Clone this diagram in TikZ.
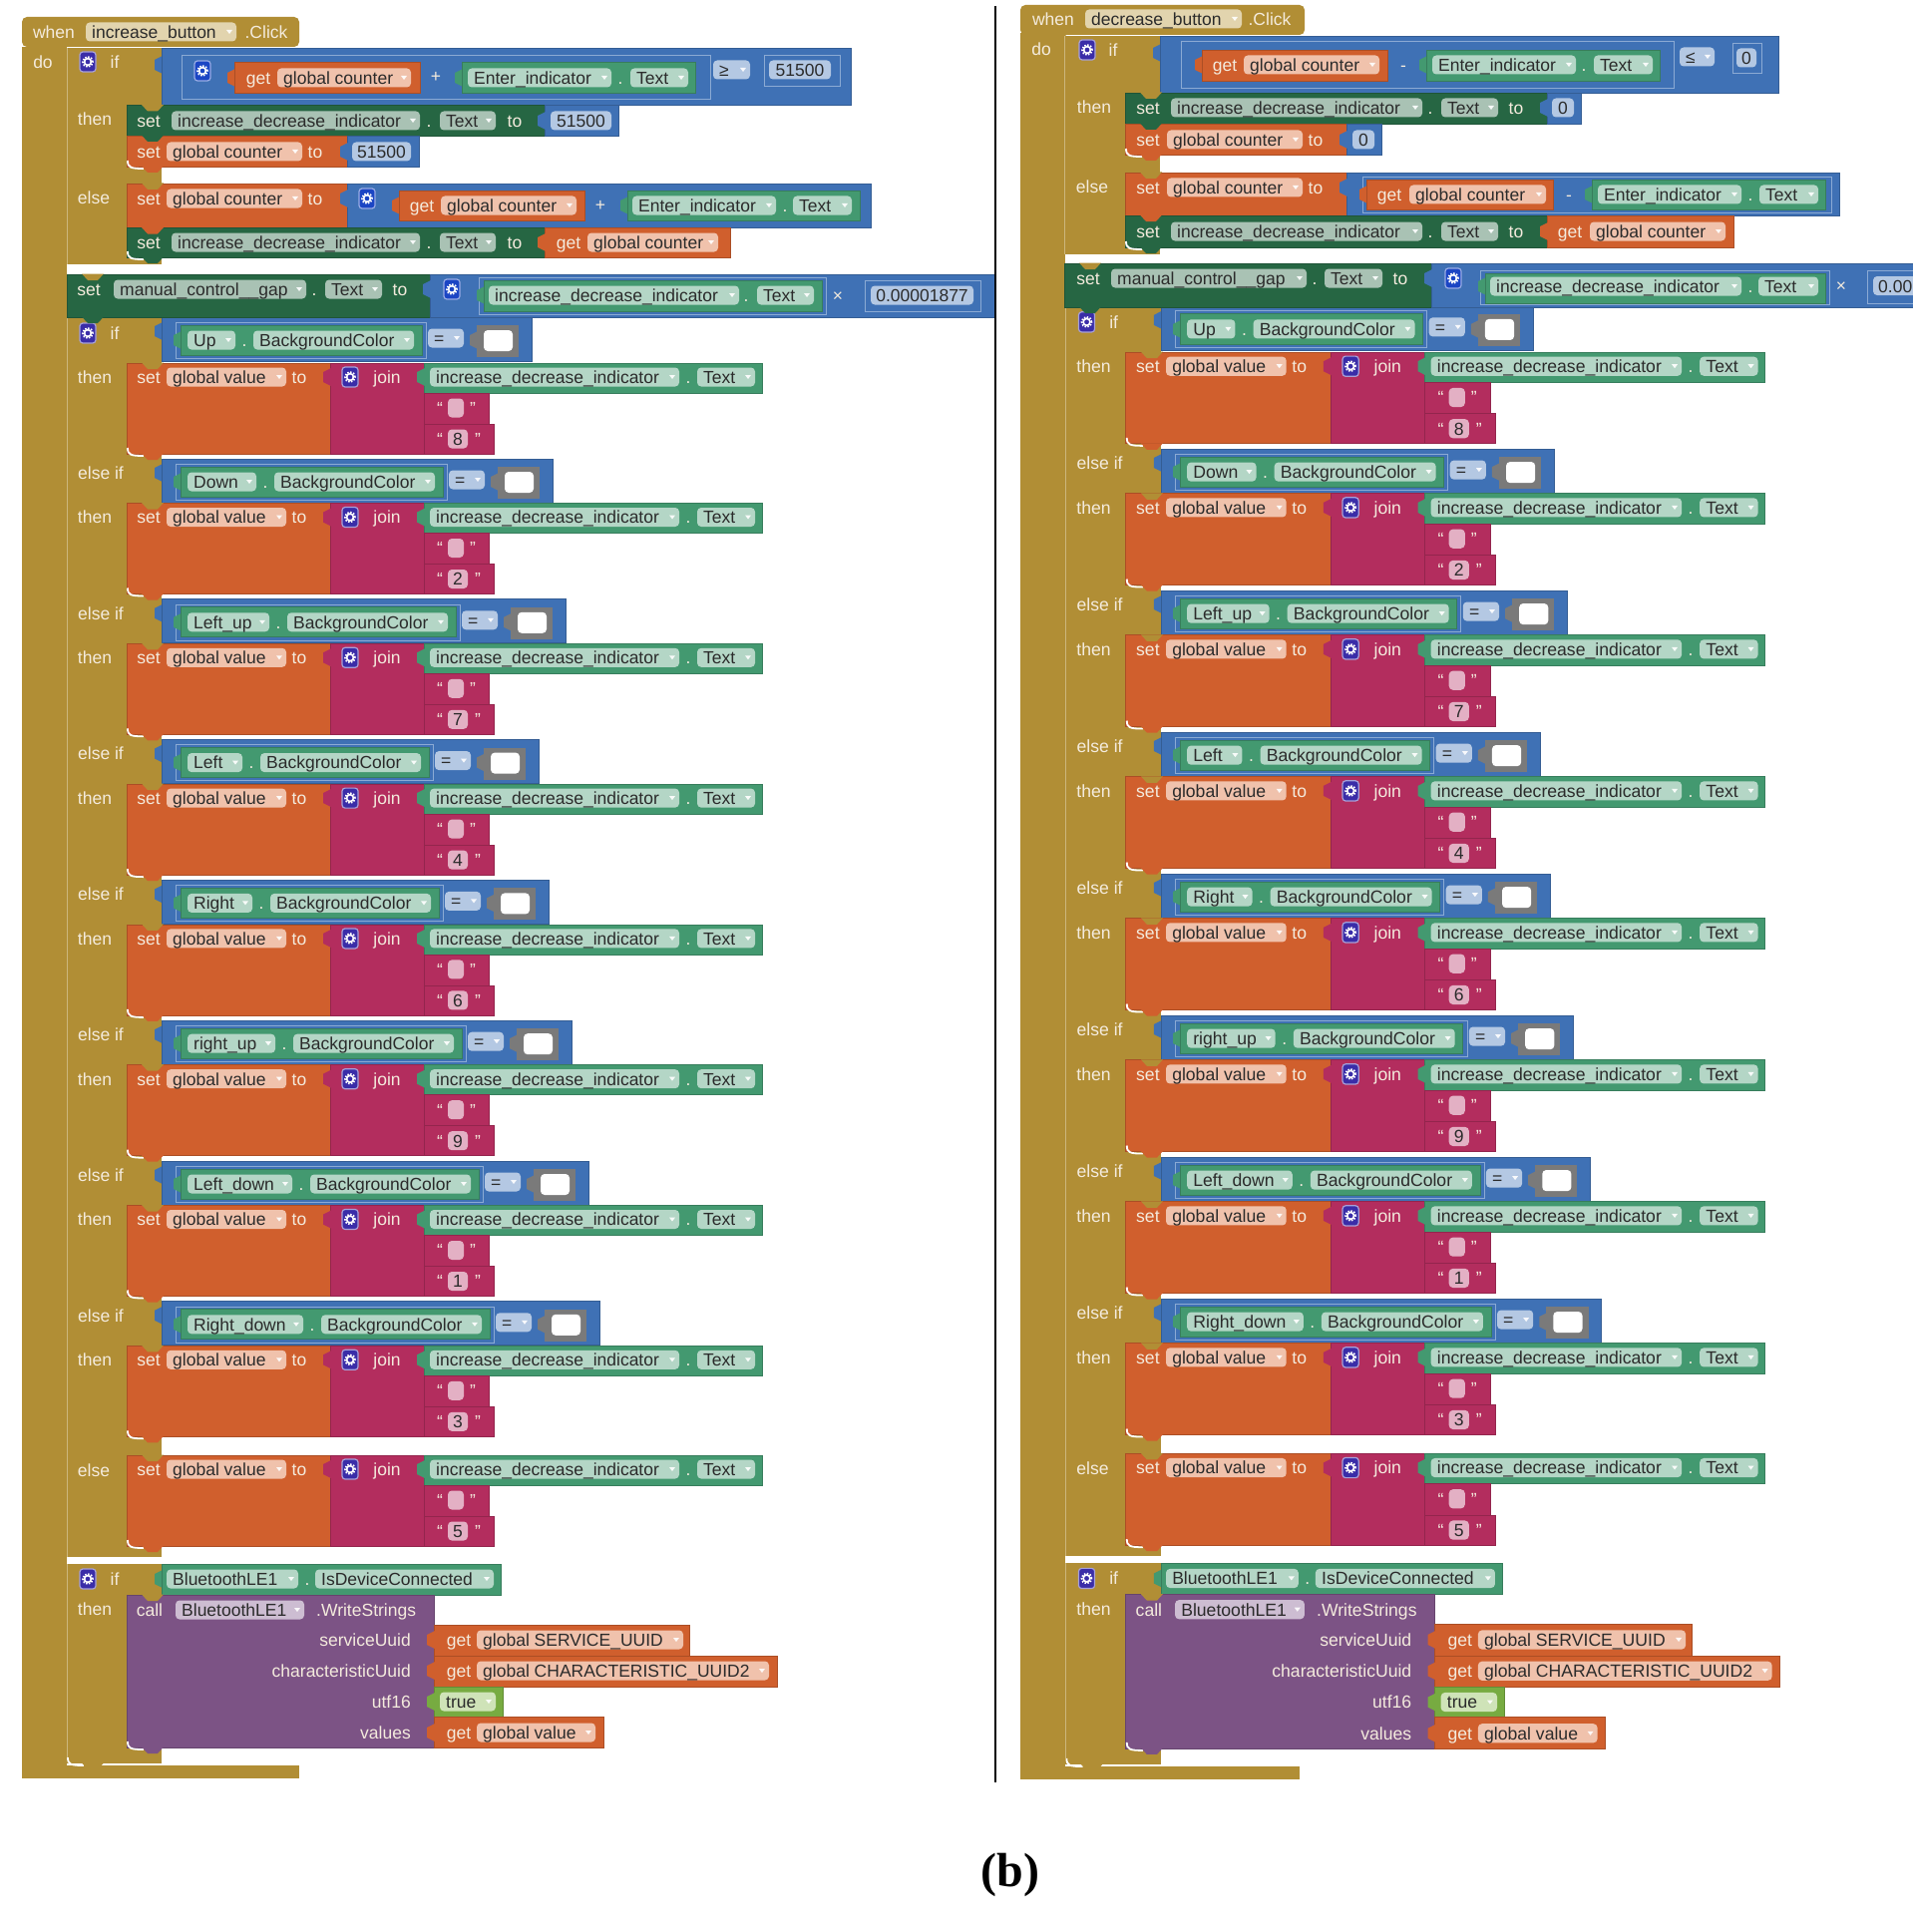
\documentclass[tikz,border=0pt]{standalone}
\usepackage{fontspec}
\setmainfont{Liberation Sans}
\newfontfamily\capfont{Liberation Serif}
\definecolor{gd}{HTML}{B18E35}
\definecolor{blu}{HTML}{3F71B5}
\definecolor{dgr}{HTML}{266643}
\definecolor{grn}{HTML}{439970}
\definecolor{org}{HTML}{D05F2D}
\definecolor{pnk}{HTML}{B32D5E}
\definecolor{pur}{HTML}{7C5385}
\definecolor{lgc}{HTML}{77AB41}
\definecolor{gry}{HTML}{7A7A7A}
\definecolor{fgd}{HTML}{E2D4AE}
\definecolor{fbl}{HTML}{B4C8E3}
\definecolor{fdg}{HTML}{A9C2B4}
\definecolor{fgr}{HTML}{B4D6C6}
\definecolor{for}{HTML}{F0C2AC}
\definecolor{fpk}{HTML}{E3B0C4}
\definecolor{fpu}{HTML}{CDBDD2}
\definecolor{flg}{HTML}{CFE3B8}
\definecolor{lbl}{HTML}{F4EBDD}
\definecolor{ftx}{HTML}{2B2B2B}
\definecolor{gbx}{HTML}{3A2DA8}
\definecolor{gbb}{HTML}{1B45C4}
\definecolor{oln}{HTML}{8BAAD4}
\newcount\nn
\newcommand\SZ{\fontsize{17.5}{20}\selectfont}
\tikzset{lab/.style={inner sep=0pt,font=\SZ,text=lbl},ftxt/.style={inner sep=0pt,font=\SZ,text=ftx}}
\newcommand\NN{\global\advance\nn by 1 }
\newcommand\B[5]{\filldraw[fill=#1,draw=#1!82!black,line width=.8pt] ({#2},{#3}) rectangle ({#4},{#5});}
% centred, left, right labels on a block
\newcommand\Tc[3]{\NN\node[lab,anchor=base] (n\the\nn) at ({#1},{#2+6.3}) {#3};}
\newcommand\Tl[3]{\NN\node[lab,anchor=base west] (n\the\nn) at ({#1},{#2+6.3}) {#3};}
\newcommand\Tr[3]{\NN\node[lab,anchor=base east] (n\the\nn) at ({#1},{#2+6.3}) {#3};}
% field with drop-down arrow: fill x1 x2 yc text
\newcommand\F[5]{\fill[#1,rounded corners=4pt] ({#2},{#4-9.5}) rectangle ({#3},{#4+9.5});
 \fill[white!90!#1] ({#3-10},{#4-2}) -- ({#3-4},{#4-2}) -- ({#3-7},{#4+2}) -- cycle;
 \NN\node[ftxt,anchor=base west] (n\the\nn) at ({#2+6},{#4+6.3}) {#5};}
% field without arrow, centred text
\newcommand\N[5]{\fill[#1,rounded corners=4pt] ({#2},{#4-9.5}) rectangle ({#3},{#4+9.5});
 \NN\node[ftxt,anchor=base] (n\the\nn) at ({(#2+#3)/2},{#4+6.3}) {#5};}
\newcommand\Tab[3]{\fill[#1] ({#2+1},{#3-9}) -- ({#2-7},{#3-5}) -- ({#2-7},{#3+5}) -- ({#2+1},{#3+9}) -- cycle;}
\newcommand\Bump[3]{\fill[#1] ({#2-11},{#3-.5}) -- ({#2+11},{#3-.5}) -- ({#2+5},{#3+6}) -- ({#2-5},{#3+6}) -- cycle;}
\newcommand\WC[2]{\draw[white,line width=1.8pt] ({#1+1},{#2-6}) .. controls ({#1+1},{#2+1}) and ({#1+4},{#2+2}) .. ({#1+17},{#2+2});}
\newcommand\Gear[3]{\filldraw[fill=#3,draw=#3!45!white,line width=1.2pt,rounded corners=3pt] ({#1-8},{#2-10}) rectangle ({#1+8},{#2+10});
 \draw[white,line width=1.6pt] ({#1},{#2}) circle[radius=3.4pt];
 \draw[white,line width=1.8pt,dash pattern=on 1.5pt off 1.5pt] ({#1},{#2}) circle[radius=5pt];}
\newcommand\Ln[5]{\draw[oln,line width=.6pt] ({#1},{#2}) rectangle ({#3},{#4});}
% condition: top, name, shift
\newcommand\Cond[3]{%
 \Tab{blu}{162}{#1+14}
 \B{blu}{162}{#1}{533+#3}{#1+44}
 \Ln{176}{#1+5}{427+#3}{#1+41}{}
 \Tab{grn}{181}{#1+23}
 \B{grn}{181}{#1+8}{423+#3}{#1+38}
 \F{fgr}{188}{236+#3}{#1+23}{#2}
 \Tc{245+#3}{#1+23}{.}
 \F{fgr}{254+#3}{415+#3}{#1+23}{BackgroundColor}
 \F{fbl}{429+#3}{465+#3}{#1+21}{=}
 \Tab{gry}{478+#3}{#1+23}
 \fill[gry] ({478+#3},{#1+8}) rectangle ({520+#3},{#1+40});
 \fill[white,rounded corners=4pt] ({485+#3},{#1+13}) rectangle ({514+#3},{#1+34});}
% set global value to join ... ; top, digit
\newcommand\SetG[2]{%
 \B{org}{127}{#1}{331}{#1+91}
 \B{pnk}{331}{#1}{425}{#1+91}
 \B{grn}{425}{#1}{764}{#1+30}
 \B{pnk}{425}{#1+30}{490}{#1+61}
 \B{pnk}{425}{#1+61}{495}{#1+91}
 \Bump{gd}{153}{#1}
 \Tab{pnk}{331}{#1+14}
 \Tab{grn}{425}{#1+14}
 \Tc{149}{#1+14}{set}
 \F{for}{167}{287}{#1+14}{global value}
 \Tc{300}{#1+14}{to}
 \Gear{351}{#1+14}{gbx}
 \Tc{388}{#1+14}{join}
 \F{fgr}{431}{681}{#1+14}{increase\_decrease\_indicator}
 \Tc{690}{#1+14}{.}
 \F{fgr}{699}{757}{#1+14}{Text}
 \Tc{441}{#1+45}{“}
 \N{fpk}{449}{465}{#1+45}{}
 \Tc{474}{#1+45}{”}
 \Tc{441}{#1+76}{“}
 \N{fpk}{449}{469}{#1+76}{#2}
 \Tc{479}{#1+76}{”}
 \WC{127}{#1+91}
 \Bump{org}{153}{#1+91}}
\newcommand\Row[4]{%
 \pgfmathsetmacro\yc{460+140.8*#1}
 \pgfmathsetmacro\ys{504.5+140.8*#1}
 \Tc{101}{\yc+14}{else if}
 \Cond{\yc}{#2}{#3}
 \Tc{95}{\ys+14}{then}
 \SetG{\ys}{#4}}
% everything from the long second "if" down
\newcommand\Common{%
 \fill[gd] (22,47) rectangle (67,1783);
 \fill[gd] (22,1770) rectangle (300,1783);
 \fill[gd] (67,318) rectangle (162,1561);
 \fill[gd] (67,1568) rectangle (162,1768);
 \draw[white!35!gd,line width=.6pt] (67,48) -- (67,265);
 \draw[white!35!gd,line width=.6pt] (67,318) -- (67,1561);
 \draw[white!35!gd,line width=.6pt] (67,1568) -- (67,1762);
 \Gear{88}{334}{gbx}
 \Tc{115}{334}{if}
 \Cond{318}{Up}{0}
 \Tc{95}{378}{then}
 \SetG{364}{8}
 \Row{0}{Down}{21}{2}
 \Row{1}{Left\_up}{34}{7}
 \Row{2}{Left}{7}{4}
 \Row{3}{Right}{17}{6}
 \Row{4}{right\_up}{40}{9}
 \Row{5}{Left\_down}{57}{1}
 \Row{6}{Right\_down}{68}{3}
 \Tc{94}{1474}{else}
 \SetG{1459}{5}
 % third if
 \Gear{88}{1583}{gbx}
 \Tc{115}{1583}{if}
 \Tab{grn}{162}{1583}
 \B{grn}{162}{1568}{502}{1599}
 \F{fgr}{167}{299}{1583}{BluetoothLE1}
 \Tc{308}{1583}{.}
 \F{fgr}{316}{495}{1583}{IsDeviceConnected}
 \Tc{95}{1613}{then}
 \B{pur}{127}{1599}{435}{1752}
 \Bump{gd}{153}{1599}
 \Tc{150}{1614}{call}
 \F{fpu}{176}{305}{1614}{BluetoothLE1}
 \Tl{317}{1614}{.WriteStrings}
 \Tr{412}{1644}{serviceUuid}
 \Tr{412}{1675}{characteristicUuid}
 \Tr{412}{1706}{utf16}
 \Tr{412}{1737}{values}
 \B{org}{435}{1629}{691}{1660}
 \Tab{org}{435}{1644}
 \Tc{460}{1644}{get}
 \F{for}{478}{685}{1644}{global SERVICE\_UUID}
 \B{org}{435}{1660}{779}{1691}
 \Tab{org}{435}{1675}
 \Tc{460}{1675}{get}
 \F{for}{478}{771}{1675}{global CHARACTERISTIC\_UUID2}
 \B{lgc}{435}{1691}{504}{1721}
 \Tab{lgc}{435}{1706}
 \F{flg}{441}{497}{1706}{true}
 \B{org}{435}{1721}{605}{1752}
 \Tab{org}{435}{1737}
 \Tc{460}{1737}{get}
 \F{for}{478}{597}{1737}{global value}
 \WC{127}{1752}
 \Bump{pur}{153}{1752}
 \WC{67}{1768}
 \Bump{gd}{93}{1768}}
\begin{document}
\begin{tikzpicture}[x=1pt,y=-1pt]
\useasboundingbox (0,0) rectangle (1918,1937);
\fill[white] (0,0) rectangle (1918,1937);
% ===== LEFT COMMON (drawn first: it holds the long left bar) =====
\begin{scope}
\Common
\end{scope}
% ===== LEFT TOP =====
\fill[gd,rounded corners=5pt] (22,17) rectangle (300,47);
\Tc{54}{32}{when}
\F{fgd}{86}{237}{32}{increase\_button}
\Tc{267}{32}{.Click}
\Tc{43}{62}{do}
\fill[gd] (67,48) rectangle (162,265);
\draw[white!35!gd,line width=.6pt] (67,48) -- (67,265);
\Gear{88}{62}{gbx}
\Tc{115}{62}{if}
\Tab{blu}{162}{65}
\B{blu}{162}{48}{853}{105}
\Ln{182}{55}{712}{99}{}
\Gear{203}{71}{gbb}
\Tab{org}{235}{78}
\B{org}{235}{62}{421}{93}
\Tc{259}{78}{get}
\F{for}{278}{412}{78}{global counter}
\Tc{437}{76}{+}
\Tab{grn}{463}{78}
\B{grn}{463}{62}{697}{93}
\F{fgr}{469}{613}{78}{Enter\_indicator}
\Tc{622}{78}{.}
\F{fgr}{632}{690}{78}{Text}
\F{fbl}{715}{752}{70}{≥}
\Ln{766}{55}{842}{86}{}
\N{fbl}{771}{833}{70}{51500}
\Tc{95}{119}{then}
\B{dgr}{127}{105.5}{546}{136}
\B{blu}{546}{105.5}{620}{136}
\Bump{gd}{153}{105.5}
\Tc{149}{121}{set}
\F{fdg}{172}{421}{121}{increase\_decrease\_indicator}
\Tc{430}{121}{.}
\F{fdg}{441}{497}{121}{Text}
\Tc{516}{121}{to}
\Tab{blu}{546}{121}
\N{fbl}{552}{613}{121}{51500}
\B{org}{127}{136}{348}{167}
\B{blu}{348}{136}{420}{167}
\Bump{dgr}{153}{136}
\Tc{149}{152}{set}
\F{for}{167}{303}{152}{global counter}
\Tc{316}{152}{to}
\Tab{blu}{348}{152}
\N{fbl}{353}{412}{152}{51500}
\WC{127}{167}
\Bump{org}{153}{167}
\Tc{94}{198}{else}
\B{org}{127}{184}{348}{228.5}
\B{blu}{348}{184}{873}{228.5}
\Bump{gd}{153}{184}
\Tc{149}{199}{set}
\F{for}{167}{303}{199}{global counter}
\Tc{316}{199}{to}
\Tab{blu}{348}{199}
\Gear{368}{199}{gbb}
\Tab{org}{400}{206}
\B{org}{400}{191}{586}{221}
\Tc{423}{206}{get}
\F{for}{442}{578}{206}{global counter}
\Tc{602}{205}{+}
\Tab{grn}{629}{206}
\B{grn}{629}{191}{862}{221}
\F{fgr}{634}{778}{206}{Enter\_indicator}
\Tc{787}{206}{.}
\F{fgr}{795}{854}{206}{Text}
\B{dgr}{127}{228.5}{546}{258}
\B{org}{546}{228.5}{732}{258}
\Bump{org}{153}{228.5}
\Tc{149}{243}{set}
\F{fdg}{172}{421}{243}{increase\_decrease\_indicator}
\Tc{430}{243}{.}
\F{fdg}{441}{497}{243}{Text}
\Tc{516}{243}{to}
\Tab{org}{546}{243}
\Tc{570}{243}{get}
\F{for}{589}{720}{243}{global counter}
\WC{127}{258}
\Bump{dgr}{153}{258}
% manual gap block, left
\B{dgr}{67}{275}{431}{318}
\B{blu}{431}{275}{997}{318}
\Bump{gd}{93}{275}
\Tc{89}{290}{set}
\F{fdg}{114}{307}{290}{manual\_control\_\_gap}
\Tc{315}{290}{.}
\F{fdg}{326}{383}{290}{Text}
\Tc{401}{290}{to}
\Tab{blu}{431}{290}
\Gear{453}{290}{gbb}
\Ln{480}{278}{828}{315}{}
\Tab{grn}{485}{296}
\B{grn}{485}{281}{824}{312}
\F{fgr}{490}{741}{296}{increase\_decrease\_indicator}
\Tc{748}{296}{.}
\F{fgr}{759}{816}{296}{Text}
\Tc{840}{296}{×}
\Ln{867}{281}{983}{312}{}
\N{fbl}{873}{976}{296}{0.00001877}
\Bump{dgr}{93}{318}
% divider
\draw[black,line width=1.2pt] (998,6) -- (998,1787);
% ===== RIGHT COMMON =====
\begin{scope}[shift={(1001,-14)},xscale=1.006,yscale=1.0085,transform shape]
\Common
\end{scope}
% ===== RIGHT TOP =====
\fill[gd,rounded corners=5pt] (1023,5) rectangle (1308,35);
\Tc{1056}{19}{when}
\F{fgd}{1088}{1245}{19}{decrease\_button}
\Tc{1273}{19}{.Click}
\Tc{1044}{49}{do}
\fill[gd] (1067,36) rectangle (1163,255);
\draw[white!35!gd,line width=.6pt] (1067,36) -- (1067,255);
\Gear{1090}{50}{gbx}
\Tc{1116}{50}{if}
\Tab{blu}{1163}{53}
\B{blu}{1163}{36}{1783}{93}
\Ln{1184}{41.5}{1678}{88}{}
\Tab{org}{1205}{65}
\B{org}{1205}{50.6}{1391}{81}
\Tc{1228}{65}{get}
\F{for}{1247}{1383}{65}{global counter}
\Tc{1407}{65}{-}
\Tab{grn}{1430}{65}
\B{grn}{1430}{50.6}{1664}{81}
\F{fgr}{1436}{1580}{65}{Enter\_indicator}
\Tc{1588}{65}{.}
\F{fgr}{1598}{1657}{65}{Text}
\F{fbl}{1684}{1719}{57}{≤}
\Ln{1737}{43}{1766}{73}{}
\N{fbl}{1741}{1761}{58}{0}
\Tc{1097}{107}{then}
\B{dgr}{1128}{93}{1551}{124}
\B{blu}{1551}{93}{1585}{124}
\Bump{gd}{1154}{93}
\Tc{1151}{108}{set}
\F{fdg}{1174}{1426}{108}{increase\_decrease\_indicator}
\Tc{1434}{108}{.}
\F{fdg}{1445}{1502}{108}{Text}
\Tc{1520}{108}{to}
\Tab{blu}{1551}{108}
\N{fbl}{1556}{1578}{108}{0}
\B{org}{1128}{124}{1350}{155}
\B{blu}{1350}{124}{1385}{155}
\Bump{dgr}{1154}{124}
\Tc{1151}{140}{set}
\F{for}{1170}{1306}{140}{global counter}
\Tc{1319}{140}{to}
\Tab{blu}{1350}{140}
\N{fbl}{1356}{1378}{140}{0}
\WC{1128}{155}
\Bump{org}{1154}{155}
\Tc{1095}{187}{else}
\B{org}{1128}{173}{1350}{216}
\B{blu}{1350}{173}{1844}{216}
\Bump{gd}{1154}{173}
\Tc{1151}{188}{set}
\F{for}{1170}{1306}{188}{global counter}
\Tc{1319}{188}{to}
\Tab{blu}{1350}{188}
\Ln{1366}{177}{1836}{213}{}
\Tab{org}{1370}{195}
\B{org}{1370}{180}{1557}{210}
\Tc{1393}{195}{get}
\F{for}{1413}{1550}{195}{global counter}
\Tc{1573}{195}{-}
\Tab{grn}{1596}{195}
\B{grn}{1596}{180}{1830}{210}
\F{fgr}{1602}{1746}{195}{Enter\_indicator}
\Tc{1755}{195}{.}
\F{fgr}{1764}{1823}{195}{Text}
\B{dgr}{1128}{216}{1551}{248}
\B{org}{1551}{216}{1738}{248}
\Bump{org}{1154}{216}
\Tc{1151}{232}{set}
\F{fdg}{1174}{1426}{232}{increase\_decrease\_indicator}
\Tc{1434}{232}{.}
\F{fdg}{1445}{1502}{232}{Text}
\Tc{1520}{232}{to}
\Tab{org}{1551}{232}
\Tc{1574}{232}{get}
\F{for}{1594}{1730}{232}{global counter}
\WC{1128}{248}
\Bump{dgr}{1154}{248}
% manual gap block, right
\B{dgr}{1067}{264}{1435}{308}
\B{blu}{1435}{264}{1918}{308}
\Bump{gd}{1093}{264}
\Tc{1091}{279}{set}
\F{fdg}{1114}{1310}{279}{manual\_control\_\_gap}
\Tc{1318}{279}{.}
\F{fdg}{1328}{1386}{279}{Text}
\Tc{1404}{279}{to}
\Tab{blu}{1435}{279}
\Gear{1457}{279}{gbb}
\Ln{1484}{271}{1834}{305}{}
\Tab{grn}{1489}{287}
\B{grn}{1489}{274}{1830}{304}
\F{fgr}{1494}{1746}{287}{increase\_decrease\_indicator}
\Tc{1755}{287}{.}
\F{fgr}{1763}{1823}{287}{Text}
\Tc{1846}{286}{×}
\Ln{1872}{271}{1918}{304}{}
\fill[fbl,rounded corners=4pt] (1878,277) rectangle (1925,296);
\NN\node[ftxt,anchor=base west] (n\the\nn) at (1883,293) {0.00};
\Bump{dgr}{1093}{308}
% caption
\node[inner sep=0pt,font=\capfont\bfseries\fontsize{48}{50}\selectfont,anchor=center] (cap) at (1013,1880) {(b)};
\end{tikzpicture}
\end{document}
